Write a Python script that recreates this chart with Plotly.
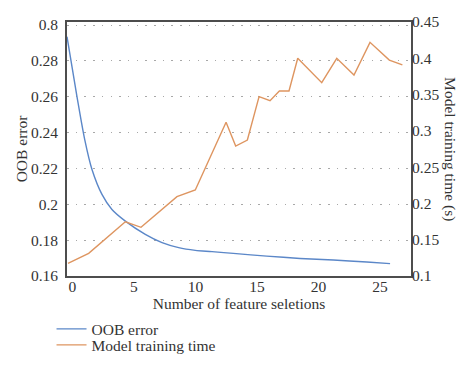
import plotly.graph_objects as go

# OOB error (left axis)
oob_x = [-0.43, 0.38, 1.01, 1.6, 2.41, 3.22, 4.31, 5.93, 7.29, 8.64, 9.99, 11.35, 13.08, 15.79, 18.5, 21.2, 23.92, 25.81]
oob_y = [0.2935, 0.2601, 0.2361, 0.2194, 0.2055, 0.1971, 0.1906, 0.1832, 0.1786, 0.1758, 0.1743, 0.1736, 0.1726, 0.1711, 0.1698, 0.1689, 0.1678, 0.1669]

# Model training time (right axis)
time_x = [-0.35, 1.33, 4.31, 5.58, 8.5, 9.99, 12.49, 13.27, 14.22, 15.17, 16.06, 16.82, 17.6, 18.31, 20.26, 21.48, 22.88, 24.18, 25.75, 26.81]
time_y = [0.1175, 0.1313, 0.1748, 0.1671, 0.2093, 0.2185, 0.3118, 0.2791, 0.2874, 0.3471, 0.3416, 0.3549, 0.3549, 0.4000, 0.3664, 0.4000, 0.3770, 0.4220, 0.3976, 0.3908]

x_ticks = [0, 5, 10, 15, 20, 25]
y_ticks = [0.16, 0.18, 0.20, 0.22, 0.24, 0.26, 0.28, 0.30]
y_ticktext = ["0.16", "0.18", "0.2", "0.22", "0.24", "0.26", "0.28", "0.8"]
y2_ticks = [0.1, 0.15, 0.2, 0.25, 0.3, 0.35, 0.4, 0.45]
y2_ticktext = ["0.1", "0.15", "0.2", "0.25", "0.3", "0.35", "0.4", "0.45"]

FONT = "Liberation Serif"
FS = 15.5
TXT = "#333333"
BLUE = "#5b87c8"
ORANGE = "#de9560"

fig = go.Figure()
fig.add_trace(go.Scatter(x=oob_x, y=oob_y, mode="lines", name="OOB error",
                         line=dict(color=BLUE, width=1.4, shape="spline", smoothing=0.8),
                         yaxis="y", legend="legend"))
fig.add_trace(go.Scatter(x=time_x, y=time_y, mode="lines", name="Model training time",
                         line=dict(color=ORANGE, width=1.4), yaxis="y2", legend="legend2"))

leg_common = dict(xanchor="left", yanchor="top", font=dict(family=FONT, size=FS, color=TXT),
                  itemwidth=30, bgcolor="rgba(0,0,0,0)")

fig.update_layout(
    width=474, height=372,
    margin=dict(l=67, r=63, t=22, b=96, autoexpand=False),
    paper_bgcolor="white", plot_bgcolor="white",
    font=dict(family=FONT, size=FS, color=TXT),
    showlegend=True,
    legend=dict(x=-0.045, y=-0.143, **leg_common),
    legend2=dict(x=-0.045, y=-0.206, **leg_common),
    xaxis=dict(range=[-0.43, 27.51], tickvals=x_ticks, showgrid=False, zeroline=False,
               showline=True, linecolor="#4d4d4d", linewidth=1.6, mirror=True,
               ticks="", automargin=False, ticklabelstandoff=-4,
               title=dict(text="Number of feature seletions", standoff=0,
                          font=dict(family=FONT, size=FS, color=TXT))),
    yaxis=dict(range=[0.16, 0.3017], tickvals=y_ticks, ticktext=y_ticktext,
               showgrid=True, gridcolor="#a8a8a8", griddash="1.5px,7.2px", gridwidth=1.3,
               zeroline=False, showline=True, linecolor="#4d4d4d", linewidth=1.6, mirror=True,
               ticks="outside", ticklen=4, tickcolor="white", automargin=False,
               title=dict(text="OOB error", standoff=0,
                          font=dict(family=FONT, size=FS, color=TXT))),
    yaxis2=dict(range=[0.1, 0.45], tickvals=y2_ticks, ticktext=y2_ticktext,
                overlaying="y", side="right", showgrid=False, zeroline=False,
                showline=False, ticks="", automargin=False),
)

fig.add_annotation(text="Model training time (s)", xref="paper", yref="paper",
                   x=1.145, y=0.5, textangle=90, showarrow=False,
                   font=dict(family=FONT, size=FS, color=TXT))

fig.write_html("out.html", config={"displayModeBar": False},
               post_script="document.body.style.margin='0px';")
